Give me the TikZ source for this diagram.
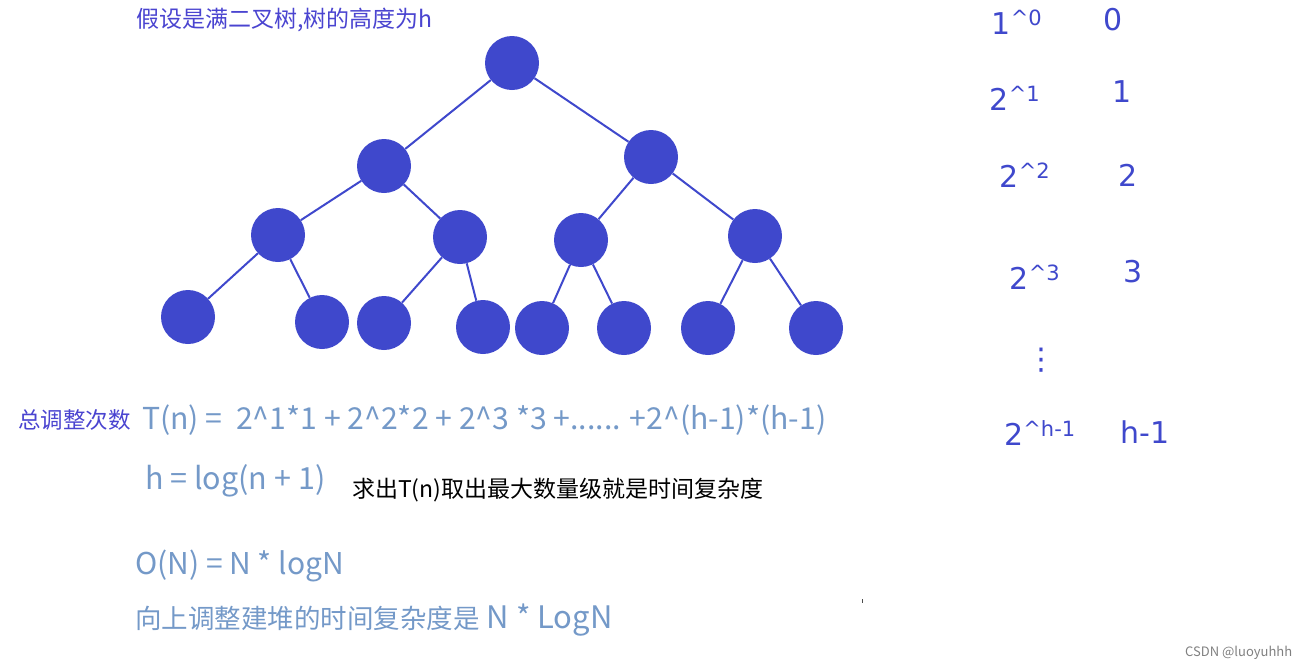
\documentclass[tikz,border=0pt]{standalone}
\usepackage{fontspec}
\setmainfont{Noto Sans CJK SC}
\newfontfamily\hand{DejaVu Sans}
\usetikzlibrary{positioning}
\definecolor{xblue}{HTML}{3F48CC}
\definecolor{xtitle}{HTML}{4A44D0}
\definecolor{xlight}{HTML}{7499C8}
\tikzset{
	heapnode/.style={circle, fill=xblue, minimum size=54pt, inner sep=0pt},
	heapedge/.style={draw=xblue, line width=2pt},
	note/.style={inner sep=0pt, anchor=west},
	handnote/.style={inner sep=0pt, text=xblue, font=\hand\fontsize{30}{30}\selectfont},
}

\begin{document}
\begin{tikzpicture}[x=1pt, y=-1pt]
			\useasboundingbox (0,0) rectangle (1306,670);

			% the full binary tree
			\node[heapnode] (n1) at (512,63) {};
			\node[heapnode] (n2) at (384,166) {};
			\node[heapnode] (n3) at (651,157) {};
			\node[heapnode] (n4) at (278,235) {};
			\node[heapnode] (n5) at (460,237) {};
			\node[heapnode] (n6) at (581,240) {};
			\node[heapnode] (n7) at (755,236) {};
			\node[heapnode] (n8) at (188,317) {};
			\node[heapnode] (n9) at (322,322) {};
			\node[heapnode] (n10) at (384,323) {};
			\node[heapnode] (n11) at (483,327) {};
			\node[heapnode] (n12) at (542,328) {};
			\node[heapnode] (n13) at (624,328) {};
			\node[heapnode] (n14) at (708,328) {};
			\node[heapnode] (n15) at (816,328) {};

			\foreach \c/\p in {2/1,3/1,4/2,5/2,6/3,7/3,8/4,9/4,10/5,11/5,12/6,13/6,14/7,15/7}
				\draw[heapedge] (n\p) -- (n\c);

			% texts
			\node[note, text=xtitle, font=\fontsize{23}{23}\selectfont] (title) at (136,20) {假设是满二叉树,树的高度为h};
			\node[note, text=xtitle, font=\fontsize{22.5}{22}\selectfont] (total) at (18,420) {总调整次数};
			\node[note, text=xlight, font=\fontsize{30.2}{30}\selectfont] (tn) at (142,420) {T(n) =\ \ 2\^{}1*1 + 2\^{}2*2 + 2\^{}3 *3 +...... +2\^{}(h-1)*(h-1)};
			\node[note, text=xlight, font=\fontsize{30.5}{30}\selectfont] (hh) at (145,481) {h = log(n + 1)};
			\node[note, font=\fontsize{23}{23}\selectfont] (res) at (352,490) {求出T(n)取出最大数量级就是时间复杂度};
			\node[note, text=xlight, font=\fontsize{30}{30}\selectfont] (on) at (135,566) {O(N) = N * logN};
			\node[note, text=xlight, font=\fontsize{26.5}{26}\selectfont] (up) at (135,620) {向上调整建堆的时间复杂度是{\fontsize{31}{31}\selectfont\ N * LogN}};
			\node[note, text=gray, font=\fontsize{13}{13}\selectfont] (mark) at (1185,653) {CSDN @luoyuhhh};

			% handwritten levels
			\node[handnote] (p0) at (1017,22) {1\textsuperscript{\^{}0}};
			\node[handnote] (l0) at (1113,20) {0};
			\node[handnote] (p1) at (1015,98) {2\textsuperscript{\^{}1}};
			\node[handnote] (l1) at (1122,92) {1};
			\node[handnote] (p2) at (1025,175) {2\textsuperscript{\^{}2}};
			\node[handnote] (l2) at (1128,175) {2};
			\node[handnote] (p3) at (1035,277) {2\textsuperscript{\^{}3}};
			\node[handnote] (l3) at (1133,272) {3};
			\node[handnote] (pd) at (1041,360) {⋮};
			\node[handnote] (ph) at (1040,433) {2\textsuperscript{\^{}h-1}};
			\node[handnote] (lh) at (1145,432) {h-1};

			\draw[black!70, line width=0.8pt] (862,599) -- (862,603);
		\end{tikzpicture}
\end{document}
